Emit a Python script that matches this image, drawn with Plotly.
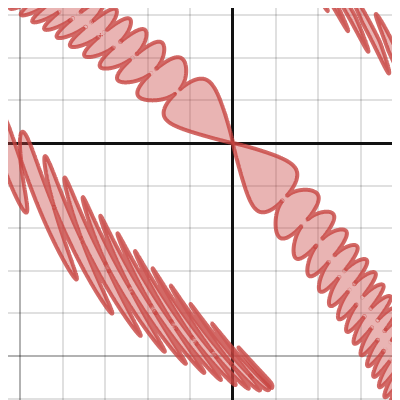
import numpy as np
import plotly.graph_objects as go

# view window (graph units)
x_range = [-5.28, 4.11]
y_range = [-6.22, 3.17]

# shape parameters
band_width = 0.95     # half width of main band (in x+y)
band_power = 0.45
band_bend = -0.016    # bend of main band
arc_center = 8.1      # centre of the outer arc (c, c)
arc_radius = 15.6
leaf_amp = 0.75
leaf_freq = 0.3
leaf_shift = 6.5
leaf_tilt = 3.0
leaf_span = 4.8
corner_cut = 0.35     # the top-right copy is thinner

fill = "rgba(199,68,64,0.4)"
edge = "rgba(199,68,64,0.8)"

xs = np.linspace(-5.6, 4.4, 800)
ys = np.linspace(-6.5, 3.5, 800)
X, Y = np.meshgrid(xs, ys)


def main_band(x, y):
    u = x + y - band_bend * (x - y) ** 2
    return np.abs(u) - band_width * np.abs(np.sin(2 * x * y)) ** band_power


def leaf_band(x, y):
    r = np.hypot(x - arc_center, y - arc_center)
    d = r - arc_radius
    th = np.arctan2(y - arc_center, x - arc_center) + 3 * np.pi / 4
    s = arc_radius * th
    env = np.clip(np.cos(np.pi / 2 * s / leaf_span), 0, 1) ** 0.5
    amp = leaf_amp * env
    return np.abs(d) - amp * np.abs(np.sin(leaf_freq * (s + leaf_shift - leaf_tilt * d) ** 2)) + 0.02


Z = np.minimum(main_band(X, Y), np.minimum(leaf_band(X, Y), leaf_band(-X, -Y) + corner_cut))

fig = go.Figure(go.Contour(
    x=xs, y=ys, z=Z,
    contours=dict(type="constraint", operation=">", value=0),
    fillcolor=fill, line=dict(color=edge, width=4),
    showscale=False, hoverinfo="skip"))

axis = dict(dtick=5, tick0=0, gridcolor="rgba(0,0,0,0.3)", gridwidth=1.5,
            minor=dict(dtick=1, gridcolor="rgba(0,0,0,0.12)", gridwidth=1.5),
            zeroline=True, zerolinecolor="#111", zerolinewidth=3,
            showticklabels=False, showline=False, ticks="")
fig.update_layout(width=400, height=400, margin=dict(l=0, r=0, t=0, b=0),
                  plot_bgcolor="white", paper_bgcolor="white", showlegend=False,
                  xaxis=dict(range=x_range, **axis), yaxis=dict(range=y_range, **axis))
fig.write_html("out.html")
